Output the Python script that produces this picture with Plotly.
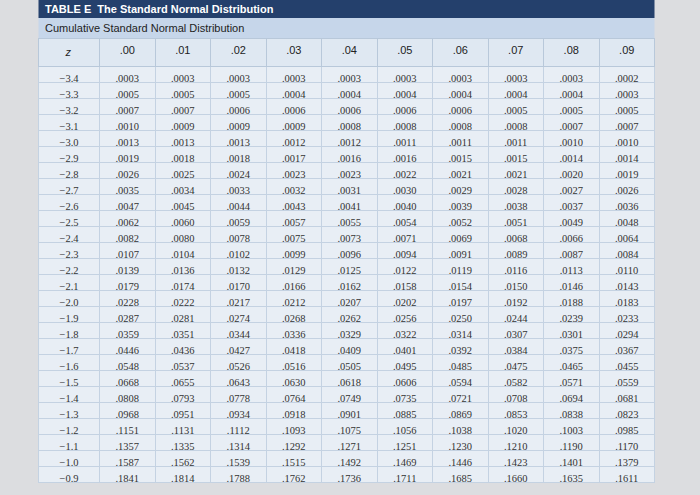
import plotly.graph_objects as go

# column headers and z values
cols = [".00", ".01", ".02", ".03", ".04", ".05", ".06", ".07", ".08", ".09"]
z = ["−3.4", "−3.3", "−3.2", "−3.1", "−3.0", "−2.9", "−2.8", "−2.7", "−2.6",
     "−2.5", "−2.4", "−2.3", "−2.2", "−2.1", "−2.0", "−1.9", "−1.8", "−1.7",
     "−1.6", "−1.5", "−1.4", "−1.3", "−1.2", "−1.1", "−1.0", "−0.9"]

# table rows
rows = [
    ".0003 .0003 .0003 .0003 .0003 .0003 .0003 .0003 .0003 .0002",
    ".0005 .0005 .0005 .0004 .0004 .0004 .0004 .0004 .0004 .0003",
    ".0007 .0007 .0006 .0006 .0006 .0006 .0006 .0005 .0005 .0005",
    ".0010 .0009 .0009 .0009 .0008 .0008 .0008 .0008 .0007 .0007",
    ".0013 .0013 .0013 .0012 .0012 .0011 .0011 .0011 .0010 .0010",
    ".0019 .0018 .0018 .0017 .0016 .0016 .0015 .0015 .0014 .0014",
    ".0026 .0025 .0024 .0023 .0023 .0022 .0021 .0021 .0020 .0019",
    ".0035 .0034 .0033 .0032 .0031 .0030 .0029 .0028 .0027 .0026",
    ".0047 .0045 .0044 .0043 .0041 .0040 .0039 .0038 .0037 .0036",
    ".0062 .0060 .0059 .0057 .0055 .0054 .0052 .0051 .0049 .0048",
    ".0082 .0080 .0078 .0075 .0073 .0071 .0069 .0068 .0066 .0064",
    ".0107 .0104 .0102 .0099 .0096 .0094 .0091 .0089 .0087 .0084",
    ".0139 .0136 .0132 .0129 .0125 .0122 .0119 .0116 .0113 .0110",
    ".0179 .0174 .0170 .0166 .0162 .0158 .0154 .0150 .0146 .0143",
    ".0228 .0222 .0217 .0212 .0207 .0202 .0197 .0192 .0188 .0183",
    ".0287 .0281 .0274 .0268 .0262 .0256 .0250 .0244 .0239 .0233",
    ".0359 .0351 .0344 .0336 .0329 .0322 .0314 .0307 .0301 .0294",
    ".0446 .0436 .0427 .0418 .0409 .0401 .0392 .0384 .0375 .0367",
    ".0548 .0537 .0526 .0516 .0505 .0495 .0485 .0475 .0465 .0455",
    ".0668 .0655 .0643 .0630 .0618 .0606 .0594 .0582 .0571 .0559",
    ".0808 .0793 .0778 .0764 .0749 .0735 .0721 .0708 .0694 .0681",
    ".0968 .0951 .0934 .0918 .0901 .0885 .0869 .0853 .0838 .0823",
    ".1151 .1131 .1112 .1093 .1075 .1056 .1038 .1020 .1003 .0985",
    ".1357 .1335 .1314 .1292 .1271 .1251 .1230 .1210 .1190 .1170",
    ".1587 .1562 .1539 .1515 .1492 .1469 .1446 .1423 .1401 .1379",
    ".1841 .1814 .1788 .1762 .1736 .1711 .1685 .1660 .1635 .1611",
]
values = [r.split() for r in rows]
columns = [z] + [[v[i] for v in values] for i in range(10)]

fig = go.Figure(go.Table(
    domain=dict(x=[0.055, 0.935], y=[0, 0.923]),
    columnwidth=[1.1] + [1] * 10,
    header=dict(values=["<i>z</i>"] + cols, height=18,
                fill_color="#dfe8f2", line_color="#b8c8da",
                font=dict(family="Liberation Sans", size=11, color="#222"),
                align="center"),
    cells=dict(values=columns, height=16,
               fill_color="#e8eef5", line_color="#c4d2e2",
               font=dict(family="Liberation Serif", size=10.5, color="#333"),
               align="center"),
))

fig.add_shape(type="rect", xref="paper", yref="paper", x0=0.055, x1=0.935,
              y0=1 - 18 / 495, y1=1, fillcolor="#24406c", line_width=0)
fig.add_shape(type="rect", xref="paper", yref="paper", x0=0.055, x1=0.935,
              y0=0.923, y1=1 - 18 / 495, fillcolor="#c6d6ea", line_width=0)
fig.add_annotation(text="<b>TABLE E  The Standard Normal Distribution</b>",
                   xref="paper", yref="paper", x=0.062, y=1 - 9 / 495,
                   xanchor="left", yanchor="middle", showarrow=False,
                   font=dict(family="Liberation Sans", size=11, color="white"))
fig.add_annotation(text="Cumulative Standard Normal Distribution",
                   xref="paper", yref="paper", x=0.062, y=1 - 28 / 495,
                   xanchor="left", yanchor="middle", showarrow=False,
                   font=dict(family="Liberation Sans", size=11, color="#222"))

fig.update_layout(width=700, height=495, margin=dict(l=0, r=0, t=0, b=0),
                  paper_bgcolor="#dcdde0")
fig.write_html("out.html", config={"displayModeBar": False},
               post_script="document.body.style.margin='0';")
